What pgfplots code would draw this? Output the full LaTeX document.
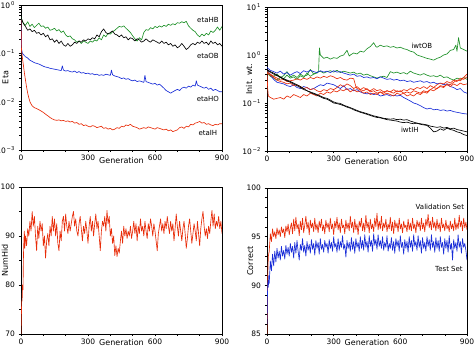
\documentclass[border=0pt]{standalone}
\usepackage{fontspec}
\setmainfont{DejaVu Sans}
\usepackage{pgfplots}
\pgfplotsset{compat=1.18}
\definecolor{cred}{RGB}{232,45,10}
\definecolor{cgreen}{RGB}{30,145,40}
\definecolor{cblue}{RGB}{25,45,215}
\pgfplotsset{
  panel/.style={scale only axis, xmin=0, xmax=900,
    xtick={0,300,600,900}, minor xtick={100,200,400,500,700,800},
    axis line style={line width=0.6pt}, tick style={black, line width=0.5pt},
    tick align=outside, xtick pos=bottom, ytick pos=left,
    major tick length=2.5pt, minor tick length=1.8pt,
    tick label style={font=\fontsize{7.5}{8}\selectfont},
    xticklabel style={yshift=1pt},
    label style={font=\fontsize{8}{9}\selectfont},
    /pgf/number format/assume math mode=true,
    /pgf/number format/1000 sep={},
    xlabel=Generation,
    every axis plot/.append style={line width=0.65pt, line join=round},
  },
}
\tikzset{lab/.style={font=\fontsize{7}{8}\selectfont, inner sep=0pt}}
\begin{document}
\begin{tikzpicture}
\useasboundingbox (0,0) rectangle (474pt,347pt);
% ---------------- top left
\begin{axis}[panel, at={(21pt,197pt)}, anchor=south west, width=201pt, height=145pt,
  ymode=log, log basis y=10, ymin=0.001, ymax=1,
  ytick={0.001,0.01,0.1,1},
  yticklabels={10\textsuperscript{\,−3},10\textsuperscript{\,−2},10\textsuperscript{\,−1},10\textsuperscript{\,0}},
  minor ytick={0.002,0.003,0.004,0.005,0.006,0.007,0.008,0.009,0.02,0.03,0.04,0.05,0.06,0.07,0.08,0.09,0.2,0.3,0.4,0.5,0.6,0.7,0.8,0.9},
  ylabel=Eta, ylabel style={at={([xshift=-12.5pt]axis description cs:0,0.5)}, anchor=base},
  xlabel style={at={([yshift=-13.5pt]axis description cs:0.5,0)}, anchor=base}]
\addplot[cgreen] coordinates {(0,0.55)(10,0.42)(20,0.38)(30,0.45)(40,0.36)(50,0.4)(60,0.34)(70,0.38)(80,0.42)(90,0.36)(100,0.37)(110,0.33)(120,0.35)(130,0.3)(140,0.31)(150,0.33)(160,0.29)(170,0.31)(180,0.27)(190,0.29)(200,0.24)(210,0.22)(220,0.23)(230,0.2)(240,0.19)(250,0.17)(260,0.18)(270,0.16)(280,0.18)(290,0.17)(300,0.16)(310,0.18)(320,0.17)(330,0.19)(340,0.18)(350,0.21)(360,0.19)(370,0.24)(380,0.22)(390,0.26)(400,0.25)(410,0.28)(420,0.3)(430,0.33)(440,0.36)(450,0.35)(460,0.37)(470,0.33)(480,0.3)(490,0.27)(500,0.23)(510,0.2)(520,0.18)(530,0.21)(540,0.19)(550,0.27)(560,0.31)(570,0.3)(580,0.34)(590,0.32)(600,0.36)(610,0.34)(620,0.37)(630,0.35)(640,0.38)(650,0.36)(660,0.4)(670,0.38)(680,0.41)(690,0.39)(700,0.43)(710,0.42)(720,0.45)(730,0.43)(740,0.46)(750,0.37)(760,0.33)(770,0.3)(780,0.28)(790,0.24)(800,0.22)(810,0.25)(820,0.23)(830,0.26)(840,0.24)(850,0.29)(860,0.27)(870,0.3)(880,0.35)(890,0.3)(900,0.36)};
\addplot[black] coordinates {(0,0.55)(10,0.42)(20,0.36)(30,0.3)(40,0.32)(50,0.28)(60,0.3)(70,0.26)(80,0.27)(90,0.24)(100,0.26)(110,0.22)(120,0.24)(130,0.19)(140,0.2)(150,0.17)(160,0.19)(170,0.16)(180,0.18)(190,0.15)(200,0.14)(210,0.16)(220,0.14)(230,0.15)(240,0.17)(250,0.16)(260,0.18)(270,0.17)(280,0.19)(290,0.18)(300,0.2)(310,0.19)(320,0.21)(330,0.2)(340,0.24)(350,0.22)(360,0.28)(370,0.32)(380,0.27)(390,0.25)(400,0.27)(410,0.29)(420,0.25)(430,0.24)(440,0.22)(450,0.24)(460,0.21)(470,0.22)(480,0.19)(490,0.21)(500,0.2)(510,0.18)(520,0.2)(530,0.19)(540,0.17)(550,0.18)(560,0.2)(570,0.18)(580,0.17)(590,0.19)(600,0.18)(610,0.17)(620,0.16)(630,0.18)(640,0.16)(650,0.17)(660,0.15)(670,0.16)(680,0.14)(690,0.15)(700,0.13)(710,0.14)(720,0.16)(730,0.14)(740,0.12)(750,0.13)(760,0.15)(770,0.16)(780,0.15)(790,0.17)(800,0.16)(810,0.18)(820,0.16)(830,0.17)(840,0.15)(850,0.18)(860,0.16)(870,0.17)(880,0.15)(890,0.16)(900,0.14)};
\addplot[cblue] coordinates {(0,0.5)(3,0.12)(6,0.1)(10,0.095)(20,0.085)(30,0.08)(40,0.072)(50,0.068)(60,0.064)(70,0.062)(80,0.06)(90,0.057)(100,0.054)(110,0.052)(120,0.051)(130,0.049)(140,0.048)(150,0.047)(160,0.046)(170,0.045)(180,0.044)(185,0.055)(190,0.045)(200,0.043)(210,0.044)(220,0.042)(230,0.041)(240,0.043)(250,0.04)(260,0.042)(270,0.039)(280,0.04)(290,0.038)(300,0.039)(310,0.037)(320,0.038)(330,0.036)(340,0.037)(350,0.035)(360,0.036)(370,0.035)(380,0.037)(390,0.036)(400,0.035)(405,0.045)(410,0.036)(420,0.034)(430,0.033)(440,0.032)(450,0.03)(460,0.031)(470,0.029)(480,0.03)(490,0.028)(500,0.027)(510,0.028)(520,0.026)(530,0.027)(540,0.026)(550,0.025)(555,0.035)(560,0.026)(570,0.025)(580,0.024)(590,0.023)(600,0.024)(610,0.022)(620,0.023)(630,0.021)(640,0.019)(650,0.017)(660,0.016)(670,0.015)(680,0.016)(690,0.017)(700,0.018)(710,0.017)(720,0.019)(730,0.02)(740,0.019)(750,0.021)(760,0.02)(770,0.022)(780,0.021)(785,0.027)(790,0.022)(800,0.021)(810,0.02)(820,0.019)(830,0.02)(840,0.018)(850,0.019)(860,0.017)(870,0.018)(880,0.017)(890,0.016)(900,0.016)};
\addplot[cred] coordinates {(0,0.5)(2,0.12)(5,0.09)(10,0.06)(15,0.04)(20,0.028)(25,0.02)(30,0.015)(35,0.012)(40,0.01)(45,0.009)(50,0.0082)(60,0.0075)(70,0.0072)(80,0.0068)(90,0.0064)(100,0.006)(110,0.0055)(120,0.0051)(130,0.0047)(140,0.0044)(150,0.0042)(160,0.0041)(170,0.0042)(180,0.004)(190,0.0041)(200,0.0039)(210,0.004)(220,0.0038)(230,0.0039)(240,0.0036)(250,0.0037)(260,0.0034)(270,0.0035)(280,0.0032)(290,0.0033)(300,0.0031)(310,0.003)(320,0.0032)(330,0.0031)(340,0.0029)(350,0.003)(360,0.0031)(370,0.0028)(380,0.0029)(390,0.0027)(400,0.0028)(410,0.0026)(420,0.0027)(430,0.0029)(440,0.0028)(450,0.0031)(460,0.003)(470,0.0033)(480,0.0032)(490,0.0034)(500,0.0031)(510,0.003)(520,0.0029)(530,0.0027)(540,0.0028)(550,0.0029)(560,0.0028)(570,0.003)(580,0.0029)(590,0.0028)(600,0.0027)(610,0.0029)(620,0.0028)(630,0.0027)(640,0.0026)(650,0.0027)(660,0.0025)(670,0.0026)(680,0.0024)(690,0.0025)(700,0.0026)(710,0.0029)(720,0.003)(730,0.0028)(740,0.0031)(750,0.003)(760,0.0034)(770,0.0033)(780,0.0036)(790,0.0037)(800,0.0039)(810,0.0036)(820,0.0037)(830,0.0034)(840,0.0035)(850,0.0033)(860,0.0032)(870,0.0034)(880,0.0033)(890,0.0035)(900,0.0035)};
\node[lab] at (axis cs:837,0.49) {etaHB};
\node[lab] at (axis cs:837,0.088) {etaOB};
\node[lab] at (axis cs:837,0.0113) {etaHO};
\node[lab] at (axis cs:837,0.00224) {etaIH};
\end{axis}
% ---------------- top right
\begin{axis}[panel, at={(267pt,196pt)}, anchor=south west, width=200pt, height=144pt,
  ymode=log, log basis y=10, ymin=0.01, ymax=10,
  ytick={0.01,0.1,1,10},
  yticklabels={10\textsuperscript{\,−2},10\textsuperscript{\,−1},10\textsuperscript{\,0},10\textsuperscript{\,1}},
  minor ytick={0.02,0.03,0.04,0.05,0.06,0.07,0.08,0.09,0.2,0.3,0.4,0.5,0.6,0.7,0.8,0.9,2,3,4,5,6,7,8,9},
  ylabel={Init. wt.}, ylabel style={at={([xshift=-15pt]axis description cs:0,0.5)}, anchor=base},
  xlabel style={at={([yshift=-14pt]axis description cs:0.5,0)}, anchor=base}]
\addplot[cgreen] coordinates {(0,0.45)(15,0.38)(30,0.36)(45,0.4)(60,0.34)(75,0.37)(90,0.45)(105,0.35)(120,0.38)(135,0.34)(150,0.4)(165,0.36)(180,0.38)(195,0.5)(210,0.4)(225,0.42)(232,0.45)(236,1.4)(240,1.0)(255,0.85)(270,0.9)(285,0.82)(300,0.88)(315,0.85)(330,0.95)(345,1.0)(360,1.25)(370,0.95)(375,1.0)(390,1.1)(405,1.05)(420,1.2)(435,1.15)(450,1.35)(465,1.5)(480,1.8)(490,1.5)(495,1.45)(510,1.6)(525,1.5)(540,1.55)(555,1.45)(570,1.5)(585,1.4)(600,1.45)(615,1.35)(630,1.3)(645,1.2)(660,1.15)(675,1.0)(690,0.95)(705,0.9)(720,0.85)(735,0.82)(750,0.78)(765,0.85)(780,0.9)(795,1.0)(810,1.05)(825,1.25)(840,1.3)(850,1.6)(855,1.2)(862,2.3)(870,1.4)(885,1.3)(900,1.2)};
\addplot[cgreen] coordinates {(0,0.42)(15,0.36)(30,0.33)(45,0.3)(60,0.34)(75,0.32)(90,0.38)(105,0.33)(120,0.35)(135,0.31)(150,0.37)(165,0.34)(180,0.42)(195,0.36)(210,0.4)(225,0.44)(240,0.46)(255,0.42)(270,0.45)(285,0.47)(300,0.44)(315,0.48)(330,0.43)(345,0.46)(360,0.44)(375,0.42)(390,0.44)(405,0.4)(420,0.42)(435,0.38)(450,0.4)(465,0.37)(480,0.35)(495,0.33)(510,0.35)(525,0.36)(540,0.34)(555,0.45)(570,0.42)(585,0.44)(600,0.41)(615,0.43)(630,0.4)(645,0.46)(660,0.42)(675,0.4)(690,0.38)(705,0.41)(720,0.38)(735,0.36)(750,0.37)(765,0.35)(780,0.38)(795,0.34)(810,0.35)(825,0.32)(840,0.3)(855,0.33)(870,0.31)(885,0.34)(900,0.31)};
\addplot[cblue] coordinates {(0,0.55)(15,0.48)(30,0.45)(45,0.42)(60,0.46)(75,0.4)(90,0.43)(105,0.38)(120,0.42)(135,0.45)(150,0.41)(165,0.47)(180,0.44)(195,0.48)(210,0.45)(225,0.43)(240,0.47)(255,0.44)(270,0.46)(285,0.43)(300,0.47)(315,0.44)(330,0.45)(345,0.42)(360,0.4)(375,0.38)(390,0.4)(405,0.36)(420,0.37)(435,0.34)(450,0.35)(465,0.33)(480,0.34)(495,0.32)(510,0.35)(525,0.33)(540,0.31)(555,0.32)(570,0.3)(585,0.31)(600,0.29)(615,0.3)(630,0.28)(645,0.29)(660,0.27)(675,0.28)(690,0.29)(705,0.27)(720,0.28)(735,0.26)(750,0.27)(765,0.25)(780,0.26)(795,0.24)(810,0.25)(825,0.22)(840,0.21)(855,0.19)(870,0.2)(885,0.17)(900,0.16)};
\addplot[cblue] coordinates {(0,0.5)(15,0.38)(30,0.31)(45,0.27)(60,0.26)(75,0.25)(90,0.23)(105,0.22)(120,0.24)(135,0.21)(150,0.2)(165,0.22)(180,0.21)(195,0.19)(210,0.2)(225,0.22)(240,0.24)(255,0.23)(270,0.26)(285,0.25)(300,0.24)(315,0.22)(330,0.2)(345,0.23)(360,0.19)(375,0.2)(390,0.18)(405,0.19)(420,0.17)(435,0.16)(450,0.155)(465,0.16)(480,0.15)(495,0.155)(510,0.14)(525,0.145)(540,0.15)(555,0.14)(570,0.145)(585,0.14)(600,0.145)(615,0.13)(630,0.12)(645,0.11)(660,0.1)(675,0.095)(690,0.088)(705,0.08)(720,0.075)(735,0.078)(750,0.072)(765,0.074)(780,0.07)(795,0.072)(810,0.068)(825,0.07)(840,0.066)(855,0.064)(870,0.062)(885,0.06)(900,0.059)};
\addplot[cred] coordinates {(0,0.45)(15,0.4)(30,0.36)(45,0.33)(60,0.3)(75,0.31)(90,0.28)(105,0.29)(120,0.3)(135,0.32)(150,0.3)(165,0.33)(180,0.31)(195,0.34)(210,0.32)(225,0.35)(240,0.33)(255,0.36)(270,0.34)(285,0.37)(300,0.35)(315,0.32)(330,0.34)(345,0.31)(360,0.3)(375,0.33)(390,0.32)(400,0.22)(405,0.2)(420,0.19)(435,0.21)(450,0.19)(465,0.18)(480,0.2)(495,0.18)(510,0.19)(525,0.17)(540,0.18)(555,0.17)(570,0.19)(585,0.17)(600,0.18)(615,0.16)(630,0.17)(645,0.16)(660,0.18)(675,0.17)(690,0.16)(705,0.18)(720,0.17)(735,0.19)(750,0.18)(765,0.2)(780,0.22)(795,0.21)(810,0.25)(825,0.24)(840,0.27)(855,0.3)(870,0.29)(885,0.34)(900,0.4)};
\addplot[cred] coordinates {(0,0.45)(3,0.2)(6,0.14)(15,0.13)(30,0.12)(45,0.125)(60,0.13)(75,0.12)(90,0.14)(105,0.13)(120,0.15)(135,0.14)(150,0.13)(165,0.15)(180,0.14)(195,0.16)(210,0.15)(225,0.14)(240,0.16)(255,0.15)(270,0.17)(285,0.16)(300,0.18)(315,0.17)(330,0.19)(345,0.18)(360,0.2)(375,0.17)(390,0.19)(405,0.17)(420,0.18)(435,0.16)(450,0.17)(465,0.15)(480,0.16)(495,0.15)(510,0.17)(525,0.15)(540,0.16)(555,0.15)(570,0.14)(585,0.16)(600,0.15)(615,0.16)(630,0.14)(645,0.15)(660,0.14)(675,0.16)(690,0.15)(705,0.17)(720,0.16)(735,0.19)(750,0.21)(765,0.2)(780,0.23)(795,0.22)(810,0.24)(825,0.22)(840,0.25)(855,0.23)(870,0.26)(885,0.24)(900,0.25)};
\addplot[cred] coordinates {(0,0.42)(15,0.38)(30,0.34)(45,0.3)(60,0.28)(75,0.27)(90,0.25)(105,0.26)(120,0.23)(135,0.24)(150,0.22)(165,0.2)(180,0.21)(195,0.19)(210,0.2)(225,0.18)(240,0.17)(255,0.19)(270,0.18)(285,0.2)(300,0.19)(315,0.21)(330,0.24)(345,0.22)(360,0.25)(375,0.23)(390,0.2)(405,0.22)(420,0.19)(435,0.18)(450,0.2)(465,0.17)(480,0.18)(495,0.16)(510,0.17)(525,0.16)(540,0.18)(555,0.17)(570,0.16)(585,0.18)(600,0.17)(615,0.19)(630,0.18)(645,0.2)(660,0.19)(675,0.21)(690,0.2)(705,0.22)(720,0.2)(735,0.23)(750,0.21)(765,0.24)(780,0.26)(795,0.25)(810,0.28)(825,0.26)(840,0.3)(855,0.28)(870,0.33)(885,0.31)(900,0.35)};
\addplot[black] coordinates {(0,0.5)(15,0.45)(30,0.42)(45,0.38)(60,0.35)(75,0.32)(90,0.3)(105,0.28)(120,0.26)(135,0.24)(150,0.22)(165,0.2)(180,0.18)(195,0.17)(210,0.16)(225,0.15)(240,0.14)(255,0.13)(270,0.125)(285,0.115)(300,0.105)(315,0.1)(330,0.098)(345,0.09)(360,0.085)(375,0.08)(390,0.075)(405,0.07)(420,0.066)(435,0.063)(450,0.06)(465,0.057)(480,0.054)(495,0.052)(510,0.05)(525,0.048)(540,0.047)(555,0.046)(570,0.047)(585,0.045)(600,0.046)(615,0.044)(630,0.045)(645,0.042)(660,0.04)(675,0.038)(690,0.037)(705,0.036)(720,0.035)(735,0.033)(750,0.032)(765,0.031)(780,0.032)(795,0.03)(810,0.031)(825,0.029)(840,0.03)(855,0.028)(870,0.027)(885,0.026)(900,0.025)};
\addplot[black] coordinates {(0,0.48)(15,0.44)(30,0.4)(45,0.37)(60,0.34)(75,0.31)(90,0.29)(105,0.27)(120,0.25)(135,0.23)(150,0.21)(165,0.19)(180,0.18)(195,0.165)(210,0.155)(225,0.145)(240,0.135)(255,0.125)(270,0.12)(285,0.11)(300,0.1)(315,0.097)(330,0.093)(345,0.088)(360,0.082)(375,0.078)(390,0.072)(405,0.068)(420,0.064)(435,0.061)(450,0.058)(465,0.055)(480,0.052)(495,0.05)(510,0.049)(525,0.047)(540,0.045)(555,0.044)(570,0.043)(585,0.042)(600,0.04)(615,0.039)(630,0.04)(645,0.038)(660,0.037)(675,0.038)(690,0.036)(705,0.035)(720,0.034)(735,0.03)(750,0.025)(765,0.026)(780,0.029)(795,0.027)(810,0.03)(825,0.028)(840,0.027)(855,0.025)(870,0.024)(885,0.022)(900,0.021)};
\node[lab] at (axis cs:697,1.55) {iwtOB};
\node[lab] at (axis cs:643,0.0275) {iwtIH};
\end{axis}
% ---------------- bottom left
\begin{axis}[panel, at={(21pt,13pt)}, anchor=south west, width=201pt, height=147pt,
  ymin=70, ymax=100, ytick={70,80,90,100}, minor y tick num=1,
  ylabel=NumHid, ylabel style={at={([xshift=-13pt]axis description cs:0,0.5)}, anchor=base},
  xlabel style={at={([yshift=-12pt]axis description cs:0.5,0)}, anchor=base}]
\addplot[cred] coordinates {(0,70)(3,76.5)(5,77)(7,80)(9,79)(11,86)(13,89)(15,91)(17,87.5)(20,90)(25,88)(30,91.5)(35,90)(40,93)(45,91)(50,95)(55,92)(60,94)(65,90)(70,87)(75,92)(80,89.5)(85,93)(90,91)(95,92.5)(100,88)(105,90)(110,85.5)(115,89)(120,90.5)(125,88)(130,92)(135,90)(140,94)(145,91)(150,93.5)(155,90)(160,92.5)(165,88.5)(170,87)(175,91)(180,89)(185,93)(190,94)(195,91)(200,94.5)(205,92)(210,90.5)(215,93)(220,91)(225,92.5)(230,94)(235,95)(240,92)(245,93.5)(250,91)(255,90)(260,92.5)(265,94)(270,91.5)(275,89)(280,92)(285,90.5)(290,93)(295,91)(300,88.5)(305,92)(310,94)(315,91)(320,93)(325,90)(330,92.5)(335,94.5)(340,91.5)(345,93)(350,90)(355,87)(360,91)(365,93)(370,92)(375,94)(380,91)(385,95.2)(390,92.5)(395,94)(400,90)(405,91.5)(410,88.5)(415,90)(420,86)(425,88)(430,85.8)(435,87.5)(440,86.5)(445,89)(450,91)(455,88.5)(460,92)(465,90)(470,91.5)(475,89.5)(480,91)(485,90)(490,92)(495,89.5)(500,91)(505,93)(510,90.5)(515,92.5)(520,89)(525,92)(530,90.5)(535,93.5)(540,91)(545,92)(550,90)(555,93)(560,91)(565,89.5)(570,92.5)(575,91)(580,93.5)(585,92)(590,90)(595,92.5)(600,91)(605,89)(610,87)(615,90.5)(620,92)(625,93.5)(630,91)(635,92.5)(640,90.5)(645,93)(650,91.5)(655,94)(660,92)(665,90.5)(670,93)(675,91)(680,92.5)(685,89)(690,91.5)(695,94.5)(700,92)(705,90)(710,93)(715,91)(720,89)(725,91.5)(730,93)(735,90.5)(740,87.5)(745,89.5)(750,92)(755,93.5)(760,91)(765,88.5)(770,90.5)(775,92.5)(780,91)(785,89)(790,93)(795,90.5)(800,88)(805,91.5)(810,93.5)(815,95)(820,92)(825,90)(830,91.5)(835,89.5)(840,92)(845,90.5)(850,93)(855,95.2)(860,92)(865,94.5)(870,91.5)(875,93)(880,92)(885,94)(890,91.5)(895,93)(900,90.5)};
\end{axis}
% ---------------- bottom right
\begin{axis}[panel, at={(267pt,13pt)}, anchor=south west, width=200pt, height=146pt,
  ymin=85, ymax=100, ytick={85,90,95,100}, minor y tick num=4,
  ylabel=Correct, ylabel style={at={([xshift=-14pt]axis description cs:0,0.5)}, anchor=base},
  xlabel style={at={([yshift=-12pt]axis description cs:0.5,0)}, anchor=base}]
\addplot[cred] coordinates {(0,85)(2,89)(4,91.5)(6,93)(10,93.5)(15,95.3)(20,94.5)(25,95.8)(30,95)(35,95.5)(40,94.8)(45,95.9)(50,95.2)(55,95.7)(60,95)(65,96)(70,95.4)(75,95.8)(80,94.9)(85,96.1)(90,95.5)(95,96.3)(100,95.2)(105,95.9)(110,96.4)(115,95.3)(120,96.8)(125,95.6)(130,97)(135,95.8)(140,96.3)(145,95.1)(150,96.6)(155,95.7)(160,96.9)(165,95.4)(170,96.2)(175,97.1)(180,95.8)(185,96.5)(190,95.2)(195,96.7)(200,95.9)(205,96.4)(210,95.5)(215,96.9)(220,95.7)(225,96.3)(230,95.4)(235,96.6)(240,95.9)(245,96.8)(250,95.6)(255,96.2)(260,95.3)(265,96.7)(270,95.9)(275,96.4)(280,95.5)(285,96.9)(290,95.8)(295,96.3)(300,95.2)(305,96.6)(310,95.9)(315,97)(320,95.7)(325,96.4)(330,95.4)(335,96.8)(340,95.9)(345,96.2)(350,95.3)(355,96.7)(360,95.8)(365,96.4)(370,95.6)(375,97.1)(380,95.9)(385,96.5)(390,95.4)(395,96.8)(400,95.7)(405,96.3)(410,95.2)(415,96.6)(420,96)(425,96.9)(430,95.6)(435,96.4)(440,95.5)(445,97.2)(450,95.9)(455,96.5)(460,95.4)(465,96.8)(470,95.8)(475,96.3)(480,95.5)(485,96.9)(490,96)(495,97.4)(500,95.7)(505,96.6)(510,95.8)(515,97.1)(520,95.6)(525,96.4)(530,95.9)(535,96.8)(540,95.5)(545,96.3)(550,95.8)(555,97)(560,95.6)(565,96.5)(570,95.3)(575,96.7)(580,95.9)(585,96.4)(590,95.5)(595,96.9)(600,95.8)(605,96.3)(610,95.4)(615,96.6)(620,95.9)(625,96.2)(630,95.5)(635,96.8)(640,95.7)(645,96.4)(650,95.6)(655,96.9)(660,95.8)(665,96.3)(670,95.4)(675,96.7)(680,96)(685,96.5)(690,95.6)(695,96.9)(700,95.8)(705,96.4)(710,95.5)(715,96.8)(720,96.1)(725,97.3)(730,95.9)(735,96.6)(740,95.7)(745,97)(750,95.9)(755,96.5)(760,95.6)(765,96.8)(770,95.8)(775,96.4)(780,95.5)(785,96.9)(790,95.9)(795,96.3)(800,95.6)(805,96.7)(810,95.8)(815,96.2)(820,95.5)(825,96.6)(830,95.8)(835,96.3)(840,95.6)(845,96.9)(850,95.7)(855,96.4)(860,95.8)(865,97.2)(870,96)(875,96.6)(880,95.6)(885,96.9)(890,95.9)(895,96.5)(900,95.7)};
\addplot[cblue] coordinates {(0,86)(2,89)(4,90.5)(6,89.8)(8,91)(10,90.2)(15,92.5)(20,91.5)(25,93.2)(30,92)(35,93.5)(40,92.4)(45,93.8)(50,92.8)(55,93.5)(60,92.6)(65,94)(70,93)(75,93.6)(80,92.7)(85,94.1)(90,93.2)(95,93.9)(100,93)(105,94.3)(110,93.4)(115,94)(120,92.8)(125,94.4)(130,93.3)(135,94.6)(140,93.5)(145,92.6)(150,94.2)(155,93.6)(160,94.8)(165,93.4)(170,94.1)(175,93)(180,94.5)(185,93.6)(190,94.2)(195,93.3)(200,94.7)(205,93.7)(210,94.3)(215,93.1)(220,94.6)(225,93.8)(230,94.4)(235,93.2)(240,94.8)(245,93.7)(250,94.2)(255,93.4)(260,94.6)(265,93.9)(270,94.3)(275,93.3)(280,94.7)(285,93.8)(290,94.4)(295,93.5)(300,95)(305,93.9)(310,94.3)(315,93.4)(320,94.8)(325,93.6)(330,94.5)(335,93.9)(340,95.1)(345,93.7)(350,94.2)(355,92.9)(360,94.6)(365,93.8)(370,94.4)(375,93.5)(380,94.9)(385,93.7)(390,94.5)(395,93.3)(400,94.8)(405,93.9)(410,94.4)(415,93.5)(420,95)(425,93.8)(430,94.6)(435,93.6)(440,95.2)(445,93.9)(450,94.5)(455,93.4)(460,95.1)(465,94)(470,94.6)(475,93.5)(480,95.3)(485,94.1)(490,94.7)(495,93.7)(500,95.2)(505,94)(510,94.6)(515,93.8)(520,95)(525,93.6)(530,94.4)(535,93.9)(540,95.1)(545,93.5)(550,94.3)(555,93.8)(560,94.9)(565,93.6)(570,94.5)(575,93.3)(580,94.8)(585,94)(590,94.6)(595,93.5)(600,95.1)(605,93.9)(610,94.4)(615,93.2)(620,94.7)(625,93.8)(630,94.5)(635,93.4)(640,95)(645,93.9)(650,94.6)(655,93.5)(660,95.2)(665,94)(670,94.5)(675,93.6)(680,95.1)(685,93.9)(690,94.6)(695,93.3)(700,94.9)(705,93.8)(710,94.4)(715,93.5)(720,95)(725,94)(730,94.7)(735,93.6)(740,95.2)(745,93.9)(750,94.5)(755,93.4)(760,94.9)(765,93.8)(770,94.6)(775,93.5)(780,95)(785,93.9)(790,94.4)(795,93.2)(800,94.8)(805,93.8)(810,94.6)(815,93.4)(820,95.1)(825,93.7)(830,94.3)(835,92.6)(840,94.7)(845,93.8)(850,94.4)(855,93.5)(860,95.2)(865,93.9)(870,94.5)(875,93.3)(880,94.8)(885,93.9)(890,94.3)(895,93.6)(900,92.6)};
\node[lab] at (axis cs:778,98.05) {Validation Set};
\node[lab] at (axis cs:819,91.68) {Test Set};
\end{axis}
\end{tikzpicture}
\end{document}
